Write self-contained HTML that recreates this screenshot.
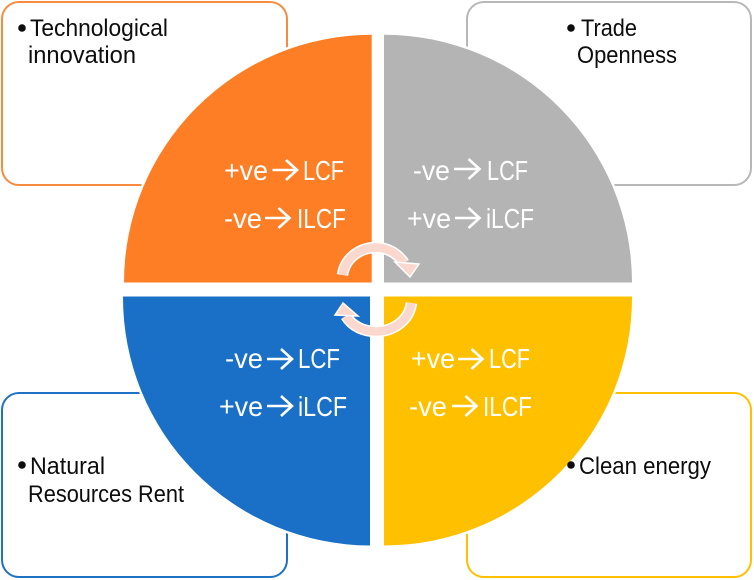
<!DOCTYPE html>
<html lang="en">
<head>
<meta charset="utf-8">
<title>Diagram</title>
<style>
html,body{margin:0;padding:0;background:#fff;width:754px;height:580px;overflow:hidden}
svg{display:block}
text{font-family:"Liberation Sans",sans-serif}
.d{font-size:24px;fill:#0d0d0d}
.w{font-size:27.500px;fill:#fff}
.a{fill:none;stroke:#fff;stroke-width:2.600}
.q{stroke:#fff;stroke-width:5;paint-order:stroke}
</style>
</head>
<body>
<svg width="754" height="580" viewBox="0 0 754 580" xmlns="http://www.w3.org/2000/svg">
<rect x="2" y="2" width="285" height="183" rx="17" fill="#fff" stroke="#f98b3f" stroke-width="2"/>
<rect x="467" y="2" width="284" height="183" rx="17" fill="#fff" stroke="#b8b8b8" stroke-width="2"/>
<rect x="2" y="393" width="285" height="184" rx="17" fill="#fff" stroke="#1f71c4" stroke-width="2"/>
<rect x="467" y="393" width="284" height="184" rx="17" fill="#fff" stroke="#ffc000" stroke-width="2"/>

<path class="q" d="M371.700 282.500H124A248 248 0 0 1 371.700 34.800Z" fill="#fd7e25"/>
<path class="q" d="M384 282.500V34.800A248 248 0 0 1 632 282.500Z" fill="#b4b4b4"/>
<path class="q" d="M370 296.500H123A248 248 0 0 0 370 545.500Z" fill="#1a70c6"/>
<path class="q" d="M384 296.500H632A248 248 0 0 1 384 545.500Z" fill="#ffc000"/>

<g fill="#0d0d0d">
<circle cx="22" cy="28" r="3.800"/>
<circle cx="571" cy="28" r="3.800"/>
<circle cx="22" cy="465" r="3.800"/>
<circle cx="571" cy="465" r="3.800"/>
</g>
<text class="d" x="30" y="36" textLength="138" lengthAdjust="spacingAndGlyphs">Technological</text>
<text class="d" x="28" y="63" textLength="108" lengthAdjust="spacingAndGlyphs">innovation</text>
<text class="d" x="581" y="36" textLength="56" lengthAdjust="spacingAndGlyphs">Trade</text>
<text class="d" x="577" y="63" textLength="100" lengthAdjust="spacingAndGlyphs">Openness</text>
<text class="d" x="30" y="474" textLength="75" lengthAdjust="spacingAndGlyphs">Natural</text>
<text class="d" x="28" y="502" textLength="156" lengthAdjust="spacingAndGlyphs">Resources Rent</text>
<text class="d" x="579" y="474" textLength="132" lengthAdjust="spacingAndGlyphs">Clean energy</text>

<text class="w" x="224" y="180" textLength="44" lengthAdjust="spacingAndGlyphs">+ve</text>
<path class="a" d="M272.500 170H297M286 160L297 170L286 180"/>
<text class="w" x="303" y="180" textLength="41" lengthAdjust="spacingAndGlyphs">LCF</text>
<text class="w" x="224" y="228" textLength="38" lengthAdjust="spacingAndGlyphs">-ve</text>
<path class="a" d="M265 218H289.500M278.500 208L289.500 218L278.500 228"/>
<text class="w" x="297" y="228" textLength="49" lengthAdjust="spacingAndGlyphs">ILCF</text>

<text class="w" x="413" y="180" textLength="37" lengthAdjust="spacingAndGlyphs">-ve</text>
<path class="a" d="M454 169H479.500M468.500 159L479.500 169L468.500 179"/>
<text class="w" x="487" y="180" textLength="41" lengthAdjust="spacingAndGlyphs">LCF</text>
<text class="w" x="407" y="228" textLength="44" lengthAdjust="spacingAndGlyphs">+ve</text>
<path class="a" d="M455 218H479.500M468.500 208L479.500 218L468.500 228"/>
<text class="w" x="486" y="228" textLength="48" lengthAdjust="spacingAndGlyphs">iLCF</text>

<text class="w" x="225" y="368" textLength="38" lengthAdjust="spacingAndGlyphs">-ve</text>
<path class="a" d="M267 359H292M281 349L292 359L281 369"/>
<text class="w" x="298" y="368" textLength="42" lengthAdjust="spacingAndGlyphs">LCF</text>
<text class="w" x="219" y="416" textLength="44" lengthAdjust="spacingAndGlyphs">+ve</text>
<path class="a" d="M267 406H292M281 396L292 406L281 416"/>
<text class="w" x="298" y="416" textLength="49" lengthAdjust="spacingAndGlyphs">iLCF</text>

<text class="w" x="411" y="368" textLength="44" lengthAdjust="spacingAndGlyphs">+ve</text>
<path class="a" d="M458 359H482.500M471.500 349L482.500 359L471.500 369"/>
<text class="w" x="489" y="368" textLength="41" lengthAdjust="spacingAndGlyphs">LCF</text>
<text class="w" x="409" y="416" textLength="38" lengthAdjust="spacingAndGlyphs">-ve</text>
<path class="a" d="M452 406H476.500M465.500 396L476.500 406L465.500 416"/>
<text class="w" x="483" y="416" textLength="49" lengthAdjust="spacingAndGlyphs">ILCF</text>

<g fill="none">
<path d="M342.500 275C345 258 360 247.500 376 247.500C388 247.500 398 254 404 263" stroke="#fff" stroke-width="11.500"/>
<path d="M342.500 275C345 258 360 247.500 376 247.500C388 247.500 398 254 404 263" stroke="#fbd8ce" stroke-width="8.500"/>
<path d="M411.500 303C409 320 394 331.500 376 331.500C363 331.500 352 326 346 316" stroke="#fff" stroke-width="11.500"/>
<path d="M411.500 303C409 320 394 331.500 376 331.500C363 331.500 352 326 346 316" stroke="#fbd8ce" stroke-width="8.500"/>
</g>
<polygon points="395,262 419,264 410,277" fill="#fbd8ce" stroke="#fff" stroke-width="1.500"/>
<polygon points="343,303 335,315 358,316" fill="#fbd8ce" stroke="#fff" stroke-width="1.500"/>
</svg>
</body>
</html>
